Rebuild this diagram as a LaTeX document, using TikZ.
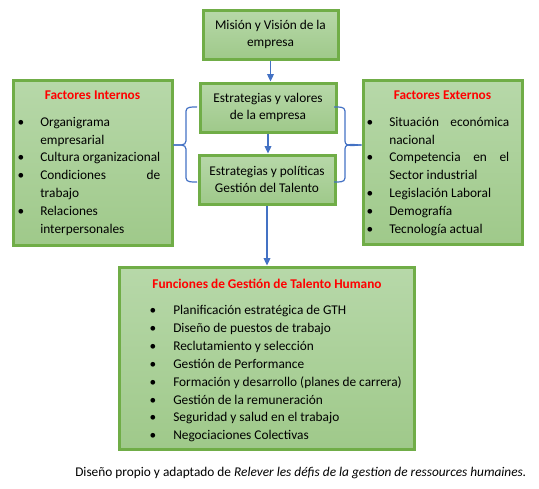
\documentclass[tikz,border=0pt]{standalone}
\usepackage{fontspec}
\setmainfont{Carlito}
\usetikzlibrary{arrows.meta}
\definecolor{boxline}{HTML}{70AD47}
\definecolor{boxtop}{HTML}{B7D8A9}
\definecolor{boxbot}{HTML}{9FC98A}
\definecolor{conn}{HTML}{4472C4}
\definecolor{titlered}{HTML}{FF0000}
\tikzset{
  box/.style={draw=boxline, line width=2.25pt, top color=boxtop, bottom color=boxbot, inner sep=0pt},
  btxt/.style={font=\fontsize{10}{13.1}\selectfont, align=center, inner sep=0pt},
  ltxt/.style={font=\fontsize{10}{13.1}\selectfont, anchor=base west, inner sep=0pt},
  bul/.style={font=\fontsize{10}{13.1}\selectfont, anchor=base, inner sep=0pt},
  ttl/.style={font=\fontsize{10}{13.1}\selectfont\bfseries, text=titlered, inner sep=0pt},
  conn/.style={draw=conn, line width=0.9pt},
  arr/.style={conn, -{Triangle[length=5.5pt,width=5pt]}}
}
\begin{document}
\begin{tikzpicture}[x=0.75pt,y=-0.75pt]
\useasboundingbox (0,0) rectangle (539,489);
% boxes
\node[box, minimum width=101.25pt, minimum height=36.75pt] (mision) at (270.5,34.5) {};
\node[btxt] (misiont) at (mision.center) {Misión y Visión de la\\empresa};
\node[box, minimum width=102pt, minimum height=36.75pt] (valores) at (268,107.5) {};
\node[btxt] (valorest) at (valores.center) {Estrategias y valores\\de la empresa};
\node[box, minimum width=102pt, minimum height=36.75pt] (politicas) at (267,179.5) {};
\node[btxt] (politicast) at (politicas.center) {Estrategias y políticas\\Gestión del Talento};
\node[box, minimum width=119.25pt, minimum height=123.75pt] (internos) at (92.5,162.5) {};
\node[box, minimum width=119.25pt, minimum height=123pt] (externos) at (442.5,162) {};
\node[box, minimum width=221.25pt, minimum height=136.5pt] (funciones) at (266.5,358) {};
% titles
\node[ttl] (tint) at (92.5,95.5) {Factores Internos};
\node[ttl] (text) at (442.5,95.5) {Factores Externos};
\node[ttl] (tfun) at (267,283.5) {Funciones de Gestión de Talento Humano};
% internos list
\foreach \y/\b/\t [count=\i] in {
  126/1/Organigrama,
  144/0/empresarial,
  161/1/Cultura organizacional,
  179/1/{\hbox to 90pt{Condiciones\hfill de}},
  197/0/trabajo,
  215/1/Relaciones,
  233/0/interpersonales}{
  \node[ltxt] (il\i) at (40,\y) {\t};
  \ifnum\b=1 \node[bul] (ib\i) at (21,\y) {\textbullet}; \fi
}
% externos list
\foreach \y/\b/\t [count=\i] in {
  126/1/{\hbox to 90pt{Situación\hfill económica}},
  144/0/nacional,
  161/1/{\hbox to 90pt{Competencia\hfill en\hfill el}},
  179/0/Sector industrial,
  197/1/Legislación Laboral,
  215/1/Demografía,
  233/1/Tecnología actual}{
  \node[ltxt] (el\i) at (389,\y) {\t};
  \ifnum\b=1 \node[bul] (eb\i) at (370,\y) {\textbullet}; \fi
}
% funciones list
\foreach \y/\t [count=\i] in {
  314/Planificación estratégica de GTH,
  332/Diseño de puestos de trabajo,
  350/Reclutamiento y selección,
  368/Gestión de Performance,
  386/Formación y desarrollo (planes de carrera),
  404/Gestión de la remuneración,
  421/Seguridad y salud en el trabajo,
  439/Negociaciones Colectivas}{
  \node[ltxt] (fl\i) at (173,\y) {\t};
  \node[bul] (fb\i) at (153,\y) {\textbullet};
}
% arrows
\draw[arr] (mision.south) -- (valores.north -| mision.south);
\draw[arr] (valores.south) -- (politicas.north -| valores.south);
\draw[arr] (politicas.south) -- (funciones.north -| politicas.south);
% braces
\coordinate (lt) at (197,107);
\coordinate (lb) at (197,182);
\coordinate (lm) at (internos.east |- 0,145);
\draw[conn] (lt) to[out=180,in=90] (186,111) -- (186,141) to[out=-90,in=0] (lm);
\draw[conn] (lb) to[out=180,in=-90] (186,178) -- (186,149) to[out=90,in=0] (lm);
\coordinate (rt) at (334,107);
\coordinate (rb) at (334,182);
\coordinate (rm) at (externos.west |- 0,145);
\draw[conn] (rt) to[out=0,in=90] (345,111) -- (345,141) to[out=-90,in=180] (rm);
\draw[conn] (rb) to[out=0,in=-90] (345,178) -- (345,149) to[out=90,in=180] (rm);
% caption
\node[ltxt] (cap) at (75,476) {Diseño propio y adaptado de \textit{Relever les défis de la gestion de ressources humaines.}};
\end{tikzpicture}
\end{document}
